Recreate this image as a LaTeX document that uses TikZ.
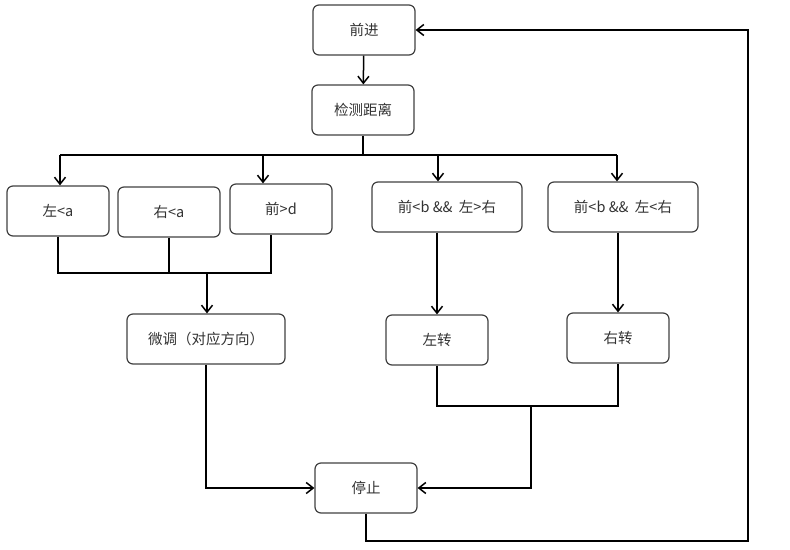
\documentclass[tikz,border=0pt]{standalone}
\usepackage{fontspec}
\newfontfamily\cjkfont{Noto Sans CJK SC}
\usetikzlibrary{arrows.meta}
\begin{document}
\begin{tikzpicture}[
    x=1pt, y=-1pt,
    box/.style={draw=black!75, line width=1.2pt, rounded corners=6pt,
      minimum width=102pt, minimum height=50pt, text=black!80,
      font=\cjkfont\fontsize{14.5}{17}\selectfont},
    wide box/.style={box, minimum width=150pt},
    link/.style={line width=1.5pt},
    flow/.style={link, -{Straight Barb[length=7pt,width=11pt]}}
  ]
  \useasboundingbox (0,0) rectangle (790,549);
  \node [box] (go) at (364,30) {前进};
  \node [box] (sense) at (363,110) {检测距离};
  \node [box] (left a) at (58,211) {左<a};
  \node [box] (right a) at (169,212) {右<a};
  \node [box] (front d) at (281,209) {前>d};
  \node [wide box] (front left) at (447,207) {前<b \&\&~ 左>右};
  \node [wide box] (front right) at (623,207) {前<b \&\&~ 左<右};
  \node [box, minimum width=158pt] (tune) at (206,339) {微调（对应方向）};
  \node [box] (turn left) at (437,340) {左转};
  \node [box] (turn right) at (618,338) {右转};
  \node [box] (stop) at (366,488) {停止};
  \coordinate (split) at (363,155);
  \coordinate (join) at (207,273);
  \coordinate (merge) at (531,406);
  \coordinate (loop) at (748,541);
  \draw [flow] (go) -- (sense);
  \draw [link]
    (sense) -- (split)
  ;
  \draw [link]
    ([xshift=2pt]split -| left a)
    -- ([xshift=-6pt]split -| front right)
  ;
  \foreach \n/\s in {left a/2,front d/-18,front left/-9,front right/-6}{
    \draw [flow] ([xshift=\s pt]split -| \n) -- ([xshift=\s pt]\n.north);
  }
  \draw [link]
    (left a) |- (join)
    -| ([xshift=-10pt]front d.south)
  ;
  \draw [link] (right a) -- (right a |- join);
  \draw [flow] (join) -- (join |- tune.north);
  \draw [flow] (front left.south -| turn left) -- (turn left);
  \draw [flow] (front right.south -| turn right) -- (turn right);
  \draw [link]
    (turn left) |- (merge)
    -| (turn right)
  ;
  \draw [flow] (merge) |- (stop);
  \draw [flow] (tune) |- (stop);
  \draw [flow]
    (stop) |- (loop)
    |- (go)
  ;
\end{tikzpicture}
\end{document}
